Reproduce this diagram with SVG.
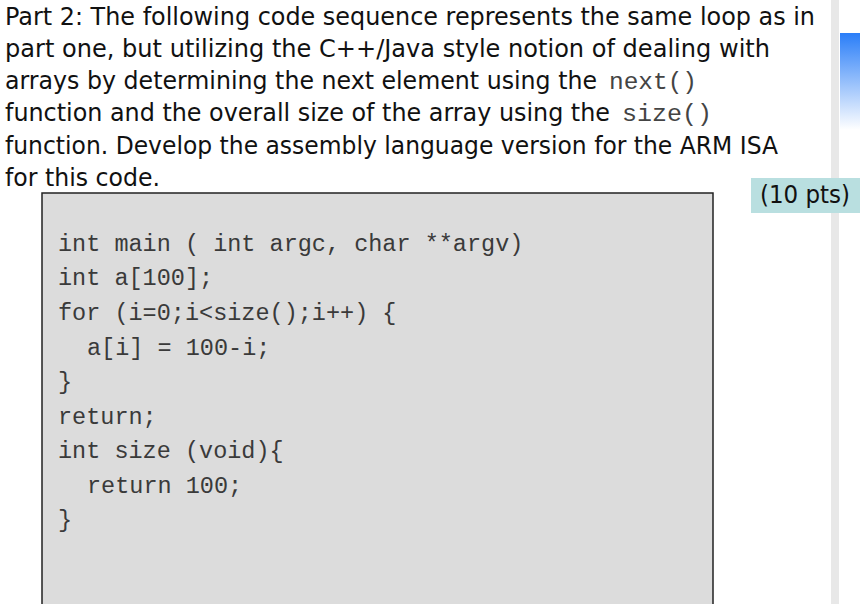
<svg xmlns="http://www.w3.org/2000/svg" width="860" height="604" viewBox="0 0 860 604">
<defs>
<linearGradient id="bl" x1="0" y1="0" x2="0" y2="1"><stop offset="0" stop-color="#2a7ef8"/><stop offset="1" stop-color="#ffffff"/></linearGradient>
<style>
.t{font-family:"DejaVu Sans",Verdana,sans-serif;font-size:25px;fill:#111}
.m{font-family:"Liberation Mono","Courier New",monospace;font-size:24px;fill:#444}
.c{font-family:"Liberation Mono","Courier New",monospace;font-size:23.5px;fill:#3a3a3a}
</style>
</defs>
<rect width="860" height="604" fill="#fff"/>
<rect x="831" y="0" width="8" height="604" fill="#e8e8e8"/>
<rect x="840" y="33" width="20" height="97" fill="url(#bl)"/>
<g id="question">
<text class="t" x="5" y="25" textLength="810" lengthAdjust="spacingAndGlyphs">Part 2: The following code sequence represents the same loop as in</text>
<text class="t" x="5" y="57" textLength="765" lengthAdjust="spacingAndGlyphs">part one, but utilizing the C++/Java style notion of dealing with</text>
<text class="t" y="89"><tspan x="5" textLength="592" lengthAdjust="spacingAndGlyphs">arrays by determining the next element using the</tspan><tspan class="m" x="609" textLength="88" lengthAdjust="spacingAndGlyphs">next()</tspan></text>
<text class="t" y="121"><tspan x="5" textLength="605" lengthAdjust="spacingAndGlyphs">function and the overall size of the array using the</tspan><tspan class="m" x="622" textLength="90" lengthAdjust="spacingAndGlyphs">size()</tspan></text>
<text class="t" x="5" y="154" textLength="773" lengthAdjust="spacingAndGlyphs">function. Develop the assembly language version for the ARM ISA</text>
<text class="t" x="5" y="186" textLength="155" lengthAdjust="spacingAndGlyphs">for this code.</text>
</g>
<g id="points">
<rect x="751" y="178" width="109" height="35" fill="#b9dfe0"/>
<text class="t" x="805" y="203" text-anchor="middle" textLength="90" lengthAdjust="spacingAndGlyphs">(10 pts)</text>
</g>
<g id="code">
<rect x="42" y="193" width="671" height="420" fill="#dcdcdc" stroke="#222" stroke-width="1.5"/>
<text class="c" x="58" y="251">int main ( int argc, char **argv)</text>
<text class="c" x="58" y="285">int a[100];</text>
<text class="c" x="58" y="320">for (i=0;i&lt;size();i++) {</text>
<text class="c" x="87" y="355">a[i] = 100-i;</text>
<text class="c" x="58" y="389">}</text>
<text class="c" x="58" y="424">return;</text>
<text class="c" x="58" y="458">int size (void){</text>
<text class="c" x="87" y="493">return 100;</text>
<text class="c" x="58" y="527">}</text>
</g>
</svg>
